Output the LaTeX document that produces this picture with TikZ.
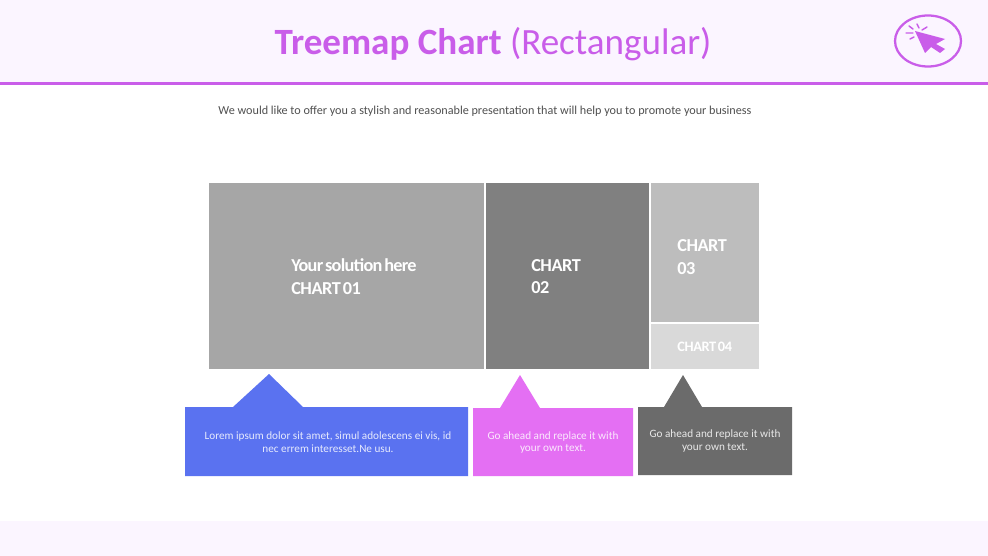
\documentclass[tikz,border=0pt]{standalone}
\usepackage{fontspec}
\setmainfont{Carlito}
\newfontfamily\tightbold[BoldFont=Carlito Bold,LetterSpace=-2.5,WordSpace=0.55]{Carlito}
\newfontfamily\tighterbold[BoldFont=Carlito Bold,LetterSpace=-4,WordSpace=0.55]{Carlito}
\definecolor{band}{HTML}{FBF5FF}
\definecolor{accent}{HTML}{C95DE9}
\definecolor{cblue}{HTML}{5A72F0}
\definecolor{cpink}{HTML}{E46FF3}
\definecolor{cgray}{HTML}{6B6B6B}
\definecolor{subtxt}{HTML}{505050}
\tikzset{
  x=0.75pt,y=-0.75pt,
  tile/.style={inner sep=0pt,text=white,font=\tightbold\bfseries\fontsize{13.7pt}{17pt}\selectfont,align=left,anchor=west},
  note/.style={inner sep=0pt,text=white,font=\fontsize{8.4pt}{9.5pt}\selectfont,align=center,opacity=0.85},
}
\begin{document}
\begin{tikzpicture}
\useasboundingbox (0,0) rectangle (988,556);
\fill[white] (0,0) rectangle (988,556);
\fill[band] (0,0) rectangle (988,82);
\fill[accent] (0,82) rectangle (988,85.5);
\fill[band] (0,521) rectangle (988,556);
\node[inner sep=0pt,text=accent,font=\fontsize{27.8pt}{32pt}\selectfont] (title) at (493,44) {\textbf{Treemap Chart} (Rectangular)};
\node[inner sep=0pt,text=subtxt,font=\fontsize{9.12pt}{12pt}\selectfont] (sub) at (485,111) {We would like to offer you a stylish and reasonable presentation that will help you to promote your business};
% icon
\draw[accent,line width=1.7pt] (928,41) ellipse [x radius=33,y radius=25.5];
\fill[accent] (915,31) -- (945,39) -- (936,44) -- (945,49) -- (940,53) -- (931,47) -- (925,53) -- cycle;
\draw[accent,line width=1.1pt,line cap=round] (909,26) -- (913,29) (906,33) -- (913,33) (910,39) -- (914,37) (917,24) -- (919,28) (927,27) -- (922,30);
% tiles
\fill[black!35!white] (209,183) rectangle (484,369);
\fill[black!50!white] (485.5,183) rectangle (649,369);
\fill[black!26!white] (650.5,183) rectangle (759,321.5);
\fill[black!15!white] (650.5,323.5) rectangle (759,369);
\node[tile] (c1) at (291,276.5) {{\tighterbold\bfseries Your solution here}\\CHART 01};
\node[tile] (c2) at (531,276.5) {CHART\\02};
\node[tile] (c3) at (677,257) {CHART\\03};
\node[tile,font=\tightbold\bfseries\fontsize{10.8pt}{13pt}\selectfont] (c4) at (677,346.5) {CHART 04};
% callouts
\fill[cblue] (185,407) -- (233,407) -- (269,374) -- (303,407) -- (468,407) -- (468,476) -- (185,476) -- cycle;
\fill[cpink] (473,408) -- (500,408) -- (520,375) -- (540,408) -- (633,408) -- (633,476) -- (473,476) -- cycle;
\fill[cgray] (638,407) -- (664,407) -- (683,375) -- (702,407) -- (792,407) -- (792,475) -- (638,475) -- cycle;
\node[note] (n1) at (328,442) {Lorem ipsum dolor sit amet, simul adolescens ei vis, id\\nec errem interesset.Ne usu.};
\node[note] (n2) at (553,442.5) {Go ahead and replace it with\\your own text.};
\node[note] (n3) at (715,441) {Go ahead and replace it with\\your own text.};
\end{tikzpicture}
\end{document}
